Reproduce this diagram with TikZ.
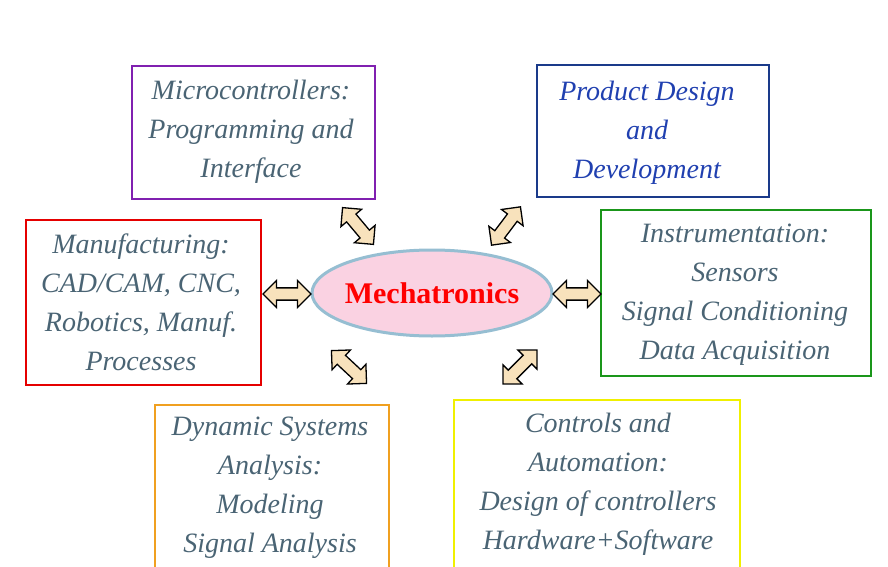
\documentclass[tikz,border=0pt]{standalone}
\usepackage{fontspec}
\setmainfont{Liberation Serif}
\usetikzlibrary{shapes.geometric,shapes.arrows}
\definecolor{txt}{HTML}{4A6474}
\definecolor{arrfill}{HTML}{F8E2BC}
\tikzset{
  x=1pt,y=-1pt,
  box/.style={draw,line width=2.4pt},
  lbl/.style={align=center,text=txt,font=\fontsize{28}{39}\selectfont\itshape},
  darr/.style={double arrow,draw=black,line width=1.3pt,fill=arrfill,minimum height=48pt,minimum width=27pt,double arrow head extend=2pt,inner sep=1pt,anchor=center},
}
\begin{document}
\begin{tikzpicture}
\useasboundingbox (0,0) rectangle (888,567);
\draw[box,draw={rgb,255:red,128;green,32;blue,176}] (132,66) rectangle (375,199);
\node[lbl] (mc) at (251,132) {Microcontrollers:\\Programming and\\Interface};
\draw[box,draw={rgb,255:red,26;green,58;blue,138}] (537,65) rectangle (769,197);
\node[lbl,text={rgb,255:red,32;green,64;blue,176}] (pd) at (647,133) {Product Design\\and\\Development};
\draw[box,draw=red!90!black] (26,220) rectangle (261,385);
\node[lbl] (mf) at (141,302) {Manufacturing:\\CAD/CAM, CNC,\\Robotics, Manuf.\\Processes};
\draw[box,draw={rgb,255:red,26;green,150;blue,26}] (601,210) rectangle (871,376);
\node[lbl] (in) at (735,295) {Instrumentation:\\Sensors\\Signal Conditioning\\Data Acquisition};
\draw[box,draw={rgb,255:red,240;green,160;blue,32}] (155,405) rectangle (389,580);
\node[lbl] (dy) at (270,488) {Dynamic Systems\\Analysis:\\Modeling\\Signal Analysis};
\draw[box,draw={rgb,255:red,240;green,240;blue,0}] (454,400) rectangle (740,580);
\node[lbl] (ct) at (598,484) {Controls and\\Automation:\\Design of controllers\\Hardware+Software};
\node[ellipse,draw={rgb,255:red,150;green,190;blue,210},line width=3pt,fill={rgb,255:red,250;green,210;blue,226},minimum width=240pt,minimum height=86pt] (me) at (432,293) {};
\node[text=red,font=\fontsize{30}{32}\selectfont\bfseries] at (me) {Mechatronics};
\node[darr,rotate=-50] (a1) at (358,226) {};
\node[darr,rotate=-127] (a2) at (506,226) {};
\node[darr] (a3) at (287,294) {};
\node[darr] (a4) at (577,294) {};
\node[darr,rotate=137] (a5) at (349,367) {};
\node[darr,rotate=-135] (a6) at (520,367) {};
\end{tikzpicture}
\end{document}
